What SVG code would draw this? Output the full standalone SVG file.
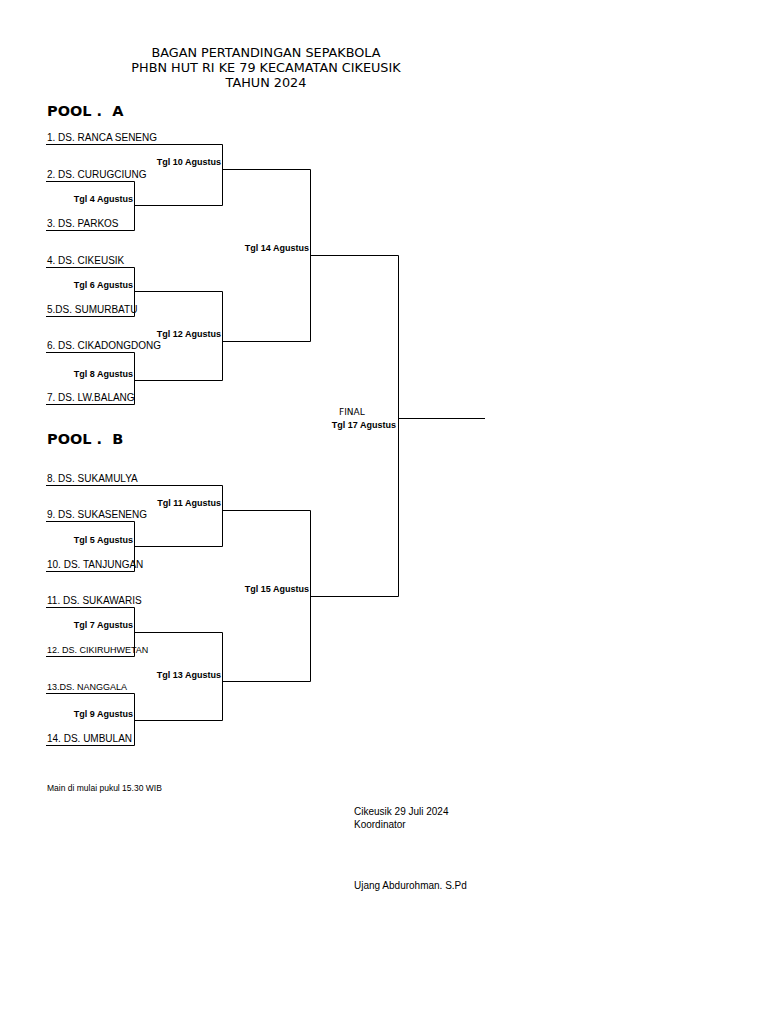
<svg xmlns="http://www.w3.org/2000/svg" width="768" height="1024" viewBox="0 0 768 1024">
<style>
.t{font-family:"DejaVu Sans",Verdana,sans-serif;font-size:12.8px;fill:#000;text-anchor:middle}
.p{font-family:"DejaVu Sans",Verdana,sans-serif;font-size:14.5px;font-weight:bold;fill:#000;white-space:pre}
.n{font-family:"Liberation Sans",Arial,sans-serif;font-size:10px;fill:#000}
.s{font-family:"Liberation Sans",Arial,sans-serif;font-size:9px;fill:#000}
.g{font-family:"Liberation Sans",Arial,sans-serif;font-size:9px;font-weight:bold;fill:#000;text-anchor:end}
.f{font-family:"Liberation Sans",Arial,sans-serif;font-size:8.5px;fill:#000}
.fn{font-family:"DejaVu Sans",Verdana,sans-serif;font-size:9px;fill:#000}
.c path{fill:none;stroke:#000;stroke-width:1}
</style>
<rect width="768" height="1024" fill="#fff"/>
<g id="title">
<text class="t" x="266" y="57">BAGAN PERTANDINGAN SEPAKBOLA</text>
<text class="t" x="266" y="72">PHBN HUT RI KE 79 KECAMATAN CIKEUSIK</text>
<text class="t" x="266" y="87">TAHUN 2024</text>
</g>
<text class="p" x="47" y="116">POOL .  A</text>
<text class="p" x="47" y="444">POOL .  B</text>
<g class="c" id="connectors">
<path d="M46 144.5H222.5V205.5H134.5"/>
<path d="M46 181.5H134.5V230.5H46"/>
<path d="M222.5 169.5H310.5V341.5H222.5"/>
<path d="M46 267.5H134.5V316.5H46"/>
<path d="M134.5 291.5H222.5V380.5H134.5"/>
<path d="M46 352.5H134.5V404.5H46"/>
<path d="M310.5 255.5H398.5V596.5H310.5"/>
<path d="M398.5 418.5H485"/>
<path d="M46 485.5H222.5V546.5H134.5"/>
<path d="M46 521.5H134.5V571.5H46"/>
<path d="M222.5 510.5H310.5V681.5H222.5"/>
<path d="M46 607.5H134.5V656.5H46"/>
<path d="M134.5 632.5H222.5V720.5H134.5"/>
<path d="M46 693.5H134.5V745.5H46"/>
</g>
<g id="teams">
<text class="n" x="47" y="141">1. DS. RANCA SENENG</text>
<text class="n" x="47" y="178">2. DS. CURUGCIUNG</text>
<text class="n" x="47" y="227">3. DS. PARKOS</text>
<text class="n" x="47" y="264">4. DS. CIKEUSIK</text>
<text class="n" x="47" y="313">5.DS. SUMURBATU</text>
<text class="n" x="47" y="349">6. DS. CIKADONGDONG</text>
<text class="n" x="47" y="401">7. DS. LW.BALANG</text>
<text class="n" x="47" y="482">8. DS. SUKAMULYA</text>
<text class="n" x="47" y="518">9. DS. SUKASENENG</text>
<text class="n" x="47" y="568">10. DS. TANJUNGAN</text>
<text class="n" x="47" y="604">11. DS. SUKAWARIS</text>
<text class="s" x="47" y="653">12. DS. CIKIRUHWETAN</text>
<text class="s" x="47" y="690">13.DS. NANGGALA</text>
<text class="n" x="47" y="742">14. DS. UMBULAN</text>
</g>
<g id="matches">
<text class="g" x="221" y="165">Tgl 10 Agustus</text>
<text class="g" x="133" y="202">Tgl 4 Agustus</text>
<text class="g" x="309" y="251">Tgl 14 Agustus</text>
<text class="g" x="133" y="288">Tgl 6 Agustus</text>
<text class="g" x="221" y="337">Tgl 12 Agustus</text>
<text class="g" x="133" y="377">Tgl 8 Agustus</text>
<text class="fn" x="339" y="415">FINAL</text>
<text class="g" x="396" y="428">Tgl 17 Agustus</text>
<text class="g" x="221" y="506">Tgl 11 Agustus</text>
<text class="g" x="133" y="543">Tgl 5 Agustus</text>
<text class="g" x="309" y="592">Tgl 15 Agustus</text>
<text class="g" x="133" y="628">Tgl 7 Agustus</text>
<text class="g" x="221" y="678">Tgl 13 Agustus</text>
<text class="g" x="133" y="717">Tgl 9 Agustus</text>
</g>
<g id="footer">
<text class="f" x="47" y="791">Main di mulai pukul 15.30 WIB</text>
<text class="n" x="354" y="815">Cikeusik 29 Juli 2024</text>
<text class="n" x="354" y="828">Koordinator</text>
<text class="n" x="354" y="889">Ujang Abdurohman. S.Pd</text>
</g>
</svg>
